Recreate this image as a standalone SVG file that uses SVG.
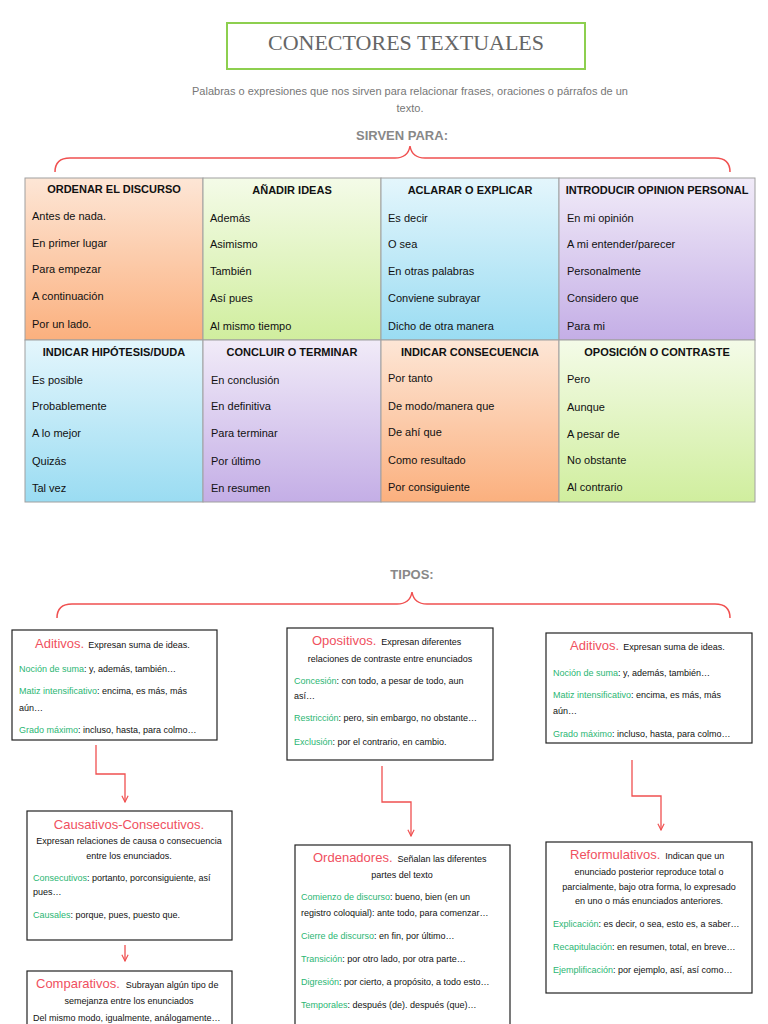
<svg xmlns="http://www.w3.org/2000/svg" width="768" height="1024" viewBox="0 0 768 1024">
<defs>
<linearGradient id="gO" x1="0" y1="0" x2="0" y2="1"><stop offset="0" stop-color="#fde6d6"/><stop offset="1" stop-color="#fbb07e"/></linearGradient>
<linearGradient id="gG" x1="0" y1="0" x2="0" y2="1"><stop offset="0" stop-color="#f4fbe8"/><stop offset="1" stop-color="#d0ee9e"/></linearGradient>
<linearGradient id="gB" x1="0" y1="0" x2="0" y2="1"><stop offset="0" stop-color="#e4f6fc"/><stop offset="1" stop-color="#9adcf2"/></linearGradient>
<linearGradient id="gP" x1="0" y1="0" x2="0" y2="1"><stop offset="0" stop-color="#f1ebf8"/><stop offset="1" stop-color="#c4aee6"/></linearGradient>
<marker id="ar" viewBox="0 0 10 10" refX="9" refY="5" markerWidth="6" markerHeight="6" orient="auto"><path d="M1,1 L9,5 L1,9" fill="none" stroke="#f05050" stroke-width="1.5"/></marker>
</defs>
<style>
text{font-family:"Liberation Sans",Arial,sans-serif;fill:#111}
.card{stroke:#a0a0a0;stroke-width:1}
.h{font-size:11px;font-weight:bold;text-anchor:middle}
.i{font-size:11px}
.box{fill:#fff;stroke:#222;stroke-width:1.2}
.t{font-size:13px;fill:#f05060}
.s{font-size:9px}
.g{fill:#2bb673}
.c{text-anchor:middle}
.br{fill:none;stroke:#f05050;stroke-width:1.5}
.ln{fill:none;stroke:#f05050;stroke-width:1.3}
</style>
<g id="title">
<rect x="227" y="23" width="358" height="46" fill="#fff" stroke="#8dcf4f" stroke-width="2"/>
<text x="406" y="50" text-anchor="middle" style="font-family:'Liberation Serif',serif;font-size:22px;fill:#666">CONECTORES TEXTUALES</text>
</g>
<text x="410" y="95" text-anchor="middle" style="font-size:11px;fill:#777">Palabras o expresiones que nos sirven para relacionar frases, oraciones o párrafos de un</text>
<text x="410" y="112" text-anchor="middle" style="font-size:11px;fill:#777">texto.</text>
<text x="402" y="140" text-anchor="middle" style="font-size:13px;font-weight:bold;fill:#888">SIRVEN PARA:</text>
<path class="br" d="M55,172 Q55,158 70,158 L395,158 Q408,158 410,146 Q412,158 425,158 L715,158 Q730,158 730,172"/>

<g id="c1"><rect class="card" x="25" y="178" width="178" height="162" fill="url(#gO)"/>
<text class="h" x="114" y="193">ORDENAR EL DISCURSO</text>
<text class="i" x="32" y="220">Antes de nada.</text><text class="i" x="32" y="247">En primer lugar</text><text class="i" x="32" y="273">Para empezar</text><text class="i" x="32" y="300">A continuación</text><text class="i" x="32" y="328">Por un lado.</text></g>
<g id="c2"><rect class="card" x="203" y="178" width="178" height="162" fill="url(#gG)"/>
<text class="h" x="292" y="194">AÑADIR IDEAS</text>
<text class="i" x="210" y="222">Además</text><text class="i" x="210" y="248">Asimismo</text><text class="i" x="210" y="275">También</text><text class="i" x="210" y="302">Así pues</text><text class="i" x="210" y="330">Al mismo tiempo</text></g>
<g id="c3"><rect class="card" x="381" y="178" width="178" height="162" fill="url(#gB)"/>
<text class="h" x="470" y="194">ACLARAR O EXPLICAR</text>
<text class="i" x="388" y="222">Es decir</text><text class="i" x="388" y="248">O sea</text><text class="i" x="388" y="275">En otras palabras</text><text class="i" x="388" y="302">Conviene subrayar</text><text class="i" x="388" y="330">Dicho de otra manera</text></g>
<g id="c4"><rect class="card" x="559" y="178" width="196" height="162" fill="url(#gP)"/>
<text class="h" x="657" y="194">INTRODUCIR OPINION PERSONAL</text>
<text class="i" x="567" y="222">En mi opinión</text><text class="i" x="567" y="248">A mi entender/parecer</text><text class="i" x="567" y="275">Personalmente</text><text class="i" x="567" y="302">Considero que</text><text class="i" x="567" y="330">Para mi</text></g>
<g id="c5"><rect class="card" x="25" y="340" width="178" height="162" fill="url(#gB)"/>
<text class="h" x="114" y="356">INDICAR HIPÓTESIS/DUDA</text>
<text class="i" x="32" y="384">Es posible</text><text class="i" x="32" y="410">Probablemente</text><text class="i" x="32" y="437">A lo mejor</text><text class="i" x="32" y="465">Quizás</text><text class="i" x="32" y="492">Tal vez</text></g>
<g id="c6"><rect class="card" x="203" y="340" width="178" height="162" fill="url(#gP)"/>
<text class="h" x="292" y="356">CONCLUIR O TERMINAR</text>
<text class="i" x="211" y="384">En conclusión</text><text class="i" x="211" y="410">En definitiva</text><text class="i" x="211" y="437">Para terminar</text><text class="i" x="211" y="465">Por último</text><text class="i" x="211" y="492">En resumen</text></g>
<g id="c7"><rect class="card" x="381" y="340" width="178" height="162" fill="url(#gO)"/>
<text class="h" x="470" y="356">INDICAR CONSECUENCIA</text>
<text class="i" x="388" y="382">Por tanto</text><text class="i" x="388" y="410">De modo/manera que</text><text class="i" x="388" y="436">De ahí que</text><text class="i" x="388" y="464">Como resultado</text><text class="i" x="388" y="491">Por consiguiente</text></g>
<g id="c8"><rect class="card" x="559" y="340" width="196" height="162" fill="url(#gG)"/>
<text class="h" x="657" y="356">OPOSICIÓN O CONTRASTE</text>
<text class="i" x="567" y="383">Pero</text><text class="i" x="567" y="411">Aunque</text><text class="i" x="567" y="438">A pesar de</text><text class="i" x="567" y="464">No obstante</text><text class="i" x="567" y="491">Al contrario</text></g>

<text x="412" y="579" text-anchor="middle" style="font-size:13px;font-weight:bold;fill:#888">TIPOS:</text>
<path class="br" d="M57,618 Q57,604 72,604 L397,604 Q410,604 412,592 Q414,604 427,604 L715,604 Q730,604 730,618"/>

<g id="connectors">
<path class="ln" d="M96,745 L96,774 L125,774 L125,802" marker-end="url(#ar)"/>
<path class="ln" d="M125,945 L125,961" marker-end="url(#ar)"/>
<path class="ln" d="M382,766 L382,802 L411,802 L411,836" marker-end="url(#ar)"/>
<path class="ln" d="M632,760 L632,796 L661,796 L661,830" marker-end="url(#ar)"/>
</g>

<g id="n1"><rect class="box" x="12" y="630" width="205" height="110"/>
<text x="35" y="648"><tspan class="t">Aditivos.</tspan><tspan class="s" dx="4">Expresan suma de ideas.</tspan></text>
<text class="s" x="19" y="672"><tspan class="g">Noción de suma</tspan>: y, además, también…</text>
<text class="s" x="19" y="694"><tspan class="g">Matiz intensificativo</tspan>: encima, es más, más</text>
<text class="s" x="19" y="711">aún…</text>
<text class="s" x="19" y="733"><tspan class="g">Grado máximo</tspan>: incluso, hasta, para colmo…</text></g>
<g id="n2"><rect class="box" x="27" y="811" width="205" height="129"/>
<text class="t c" x="129" y="829">Causativos-Consecutivos.</text>
<text class="s c" x="129" y="844">Expresan relaciones de causa o consecuencia</text>
<text class="s c" x="129" y="859">entre los enunciados.</text>
<text class="s" x="33" y="881"><tspan class="g">Consecutivos</tspan>: portanto, porconsiguiente, así</text>
<text class="s" x="33" y="895">pues…</text>
<text class="s" x="33" y="918"><tspan class="g">Causales</tspan>: porque, pues, puesto que.</text></g>
<g id="n3"><rect class="box" x="27" y="971" width="205" height="60"/>
<text x="36" y="988"><tspan class="t">Comparativos.</tspan><tspan class="s" dx="6">Subrayan algún tipo de</tspan></text>
<text class="s c" x="129" y="1004">semejanza entre los enunciados</text>
<text class="s" x="33" y="1021">Del mismo modo, igualmente, análogamente…</text></g>
<g id="n4"><rect class="box" x="287" y="628" width="206" height="132"/>
<text x="312" y="645"><tspan class="t">Opositivos.</tspan><tspan class="s" dx="5">Expresan diferentes</tspan></text>
<text class="s c" x="390" y="662">relaciones de contraste entre enunciados</text>
<text class="s" x="294" y="684"><tspan class="g">Concesión</tspan>: con todo, a pesar de todo, aun</text>
<text class="s" x="294" y="699">así…</text>
<text class="s" x="294" y="721"><tspan class="g">Restricción</tspan>: pero, sin embargo, no obstante…</text>
<text class="s" x="294" y="745"><tspan class="g">Exclusión</tspan>: por el contrario, en cambio.</text></g>
<g id="n5"><rect class="box" x="295" y="845" width="215" height="185"/>
<text x="313" y="862"><tspan class="t">Ordenadores.</tspan><tspan class="s" dx="5">Señalan las diferentes</tspan></text>
<text class="s c" x="402" y="878">partes del texto</text>
<text class="s" x="301" y="900"><tspan class="g">Comienzo de discurso</tspan>: bueno, bien (en un</text>
<text class="s" x="301" y="916">registro coloquial): ante todo, para comenzar…</text>
<text class="s" x="301" y="939"><tspan class="g">Cierre de discurso</tspan>: en fin, por último…</text>
<text class="s" x="301" y="962"><tspan class="g">Transición</tspan>: por otro lado, por otra parte…</text>
<text class="s" x="301" y="985"><tspan class="g">Digresión</tspan>: por cierto, a propósito, a todo esto…</text>
<text class="s" x="301" y="1008"><tspan class="g">Temporales</tspan>: después (de). después (que)…</text></g>
<g id="n6"><rect class="box" x="546" y="633" width="206" height="110"/>
<text x="570" y="650"><tspan class="t">Aditivos.</tspan><tspan class="s" dx="4">Expresan suma de ideas.</tspan></text>
<text class="s" x="553" y="676"><tspan class="g">Noción de suma</tspan>: y, además, también…</text>
<text class="s" x="553" y="698"><tspan class="g">Matiz intensificativo</tspan>: encima, es más, más</text>
<text class="s" x="553" y="714">aún…</text>
<text class="s" x="553" y="737"><tspan class="g">Grado máximo</tspan>: incluso, hasta, para colmo…</text></g>
<g id="n7"><rect class="box" x="546" y="842" width="206" height="151"/>
<text x="570" y="859"><tspan class="t">Reformulativos.</tspan><tspan class="s" dx="5">Indican que un</tspan></text>
<text class="s c" x="649" y="875">enunciado posterior reproduce total o</text>
<text class="s c" x="649" y="890">parcialmente, bajo otra forma, lo expresado</text>
<text class="s c" x="649" y="904">en uno o más enunciados anteriores.</text>
<text class="s" x="553" y="927"><tspan class="g">Explicación</tspan>: es decir, o sea, esto es, a saber…</text>
<text class="s" x="553" y="950"><tspan class="g">Recapitulación</tspan>: en resumen, total, en breve…</text>
<text class="s" x="553" y="973"><tspan class="g">Ejemplificación</tspan>: por ejemplo, así, así como…</text></g>
</svg>
